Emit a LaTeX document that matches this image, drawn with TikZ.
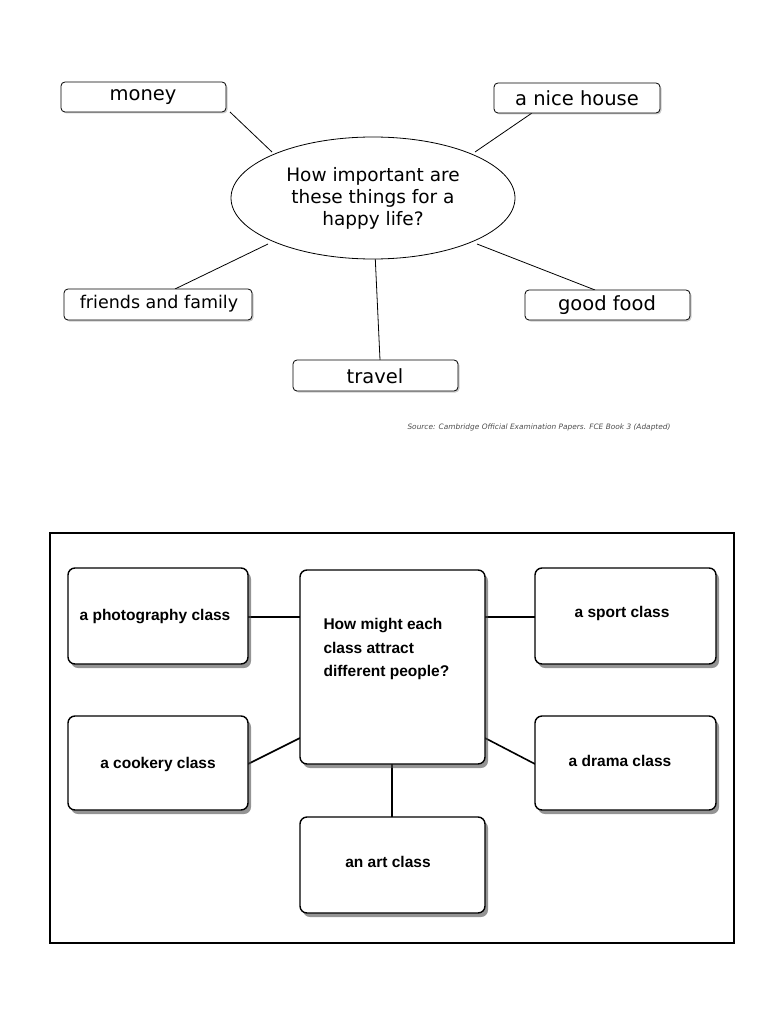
\documentclass[tikz,border=0pt]{standalone}
\usepackage{fontspec}
\setmainfont{DejaVu Sans}
\newfontfamily\lib{Liberation Sans}
\usetikzlibrary{shapes.geometric,shadows}
\begin{document}
\begin{tikzpicture}[x=1pt,y=-1pt,
 tb/.style={draw,rounded corners=4pt,line width=0.8pt,fill=white,drop shadow={shadow xshift=1.5pt,shadow yshift=-1.5pt,opacity=0.4}},
 bb/.style={draw,rounded corners=7pt,line width=1.4pt,fill=white,drop shadow={shadow xshift=3pt,shadow yshift=-4pt,opacity=0.6,fill=black!70}},
 tl/.style={font=\fontsize{19.5}{22}\selectfont},
 bl/.style={font=\lib\bfseries\fontsize{15.5}{23.5}\selectfont},
 ln/.style={line width=0.8pt},
 bln/.style={line width=1.6pt}]
\path[use as bounding box] (0,0) rectangle (768,1024);
% top diagram
\draw[ln] (230,112) -- (272,152);
\draw[ln] (532,113) -- (475,152);
\draw[ln] (268,244) -- (175,289);
\draw[ln] (477,244) -- (595,290);
\draw[ln] (375,253) -- (380,360);
\node[draw,ellipse,ln,fill=white,minimum width=284pt,minimum height=122pt,align=center,font=\fontsize{18.5}{22}\selectfont] (q) at (373,198) {How important are\\these things for a\\happy life?};
\path[tb] (61,82) rectangle (226,112);   \node[tl] (money) at (143,97) {money};
\path[tb] (494,83) rectangle (660,113);  \node[tl] (house) at (577,98) {a nice house};
\path[tb] (64,289) rectangle (252,320);  \node[font=\fontsize{17.5}{20}\selectfont] (friends) at (159,304) {friends and family};
\path[tb] (525,290) rectangle (690,320); \node[tl] (food) at (607,305) {good food};
\path[tb] (293,360) rectangle (458,391); \node[tl] (travel) at (375,376) {travel};
\node[font=\itshape\fontsize{7.4}{8}\selectfont,text=black!70] (src) at (539,427) {Source: Cambridge Official Examination Papers. FCE Book 3 (Adapted)};
% bottom diagram
\draw[line width=1.8pt] (50,533) rectangle (734,943);
\draw[bln] (248,617) -- (300,617);
\draw[bln] (485,617) -- (535,617);
\draw[bln] (248,764) -- (300,738);
\draw[bln] (485,738) -- (535,764);
\draw[bln] (392,764) -- (392,817);
\path[bb] (68,568) rectangle (248,664);
\path[bb] (300,570) rectangle (485,764);
\path[bb] (535,568) rectangle (716,664);
\path[bb] (68,716) rectangle (248,810);
\path[bb] (535,716) rectangle (716,810);
\path[bb] (300,817) rectangle (485,913);
\node[bl] (photo) at (155,617) {a photography class};
\node[bl,align=left,anchor=north west] (center) at (320,615) {How might each\\class attract\\different people?};
\node[bl] (sport) at (622,613) {a sport class};
\node[bl] (cook) at (158,764) {a cookery class};
\node[bl] (drama) at (620,761) {a drama class};
\node[bl] (art) at (388,862) {an art class};
\end{tikzpicture}
\end{document}
